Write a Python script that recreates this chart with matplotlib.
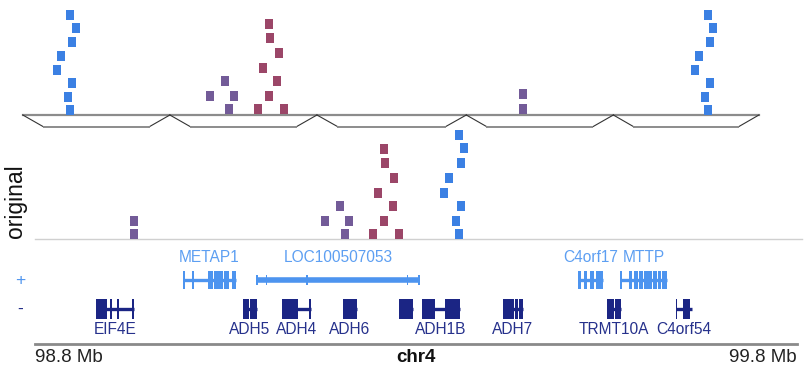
import matplotlib.pyplot as plt
from matplotlib.patches import Rectangle

plt.rcParams['font.family'] = ['Liberation Sans', 'DejaVu Sans']

W, H = 807, 383
BLUE = "#3b80e3"
PURPLE = "#735b98"
RED = "#9b4668"
PLUS_C = "#4d94ef"
MINUS_C = "#1b2584"

# positions in kb on chr4
seg_edges = [98784, 98977, 99170, 99366, 99559, 99750]

# top (rearranged) track
top_blue_x = [98846, 98854, 98849, 98834, 98829, 98849, 98843, 98846,
              99683, 99690, 99686, 99671, 99666, 99686, 99679, 99683]
top_blue_y = [100, 87, 73, 59, 45, 32, 18, 5,
              100, 87, 73, 59, 45, 32, 18, 5]
top_purple_x = [99049, 99030, 99061, 99055, 99440, 99440]
top_purple_y = [34, 19, 19, 6, 21, 6]
top_red_x = [99107, 99108, 99120, 99099, 99118, 99107, 99093, 99127]
top_red_y = [91, 77, 62, 47, 34, 19, 6, 6]

# original track
orig_blue_x = [99356, 99363, 99359, 99343, 99337, 99359, 99353, 99356]
orig_blue_y = [104, 91, 76, 61, 46, 33, 18, 5]
orig_purple_x = [98930, 98930, 99200, 99181, 99212, 99207]
orig_purple_y = [18, 5, 33, 18, 18, 5]
orig_red_x = [99258, 99259, 99271, 99250, 99270, 99258, 99244, 99278]
orig_red_y = [90, 76, 61, 46, 33, 18, 5, 5]

# genes
gene_names = ["METAP1", "LOC100507053", "C4orf17", "MTTP",
              "EIF4E", "ADH5", "ADH4", "ADH6", "", "ADH1B", "ADH7",
              "TRMT10A", "C4orf54"]
gene_strand = ["+", "+", "+", "+", "-", "-", "-", "-", "-", "-", "-", "-", "-"]
gene_start = [98994, 99090, 99513, 99568, 98880, 99073, 99124, 99204,
               99278, 99308, 99414, 99551, 99641]
gene_end = [99064, 99305, 99545, 99629, 98930, 99091, 99162, 99223,
             99296, 99358, 99440, 99569, 99662]
gene_exons = [
    [(98994, 98997), (99006, 99009), (99027, 99034), (99035, 99047),
     (99048, 99055), (99058, 99064)],
    [(99090, 99092), (99103, 99105), (99156, 99158), (99288, 99290), (99302, 99305)],
    [(99513, 99517), (99520, 99525), (99528, 99533), (99536, 99545)],
    [(99568, 99570), (99579, 99583), (99586, 99591), (99593, 99598), (99599, 99604),
     (99605, 99610), (99611, 99616), (99617, 99622), (99623, 99629)],
    [(98880, 98894), (98898, 98901), (98907, 98910), (98927, 98930)],
    [(99073, 99081), (99081.5, 99091)],
    [(99124, 99137), (99137.5, 99145), (99160, 99162)],
    [(99204, 99213), (99213.5, 99223)],
    [(99278, 99287), (99287.5, 99296)],
    [(99308, 99325), (99338, 99348), (99348.5, 99358)],
    [(99414, 99423), (99424, 99429), (99430, 99434), (99435, 99440)],
    [(99551, 99560), (99560.5, 99569)],
    [(99641, 99643), (99650, 99660)],
]
noncoding = ["LOC100507053"]

XLIM = (98800 - 35 / 0.762, 98800 + 772 / 0.762)


def px_axes(fig, y0, h):
    ax = fig.add_axes([0, 1 - (y0 + h) / H, 1, h / H])
    ax.set_xlim(*XLIM)
    ax.axis('off')
    return ax


fig = plt.figure(figsize=(W / 100, H / 100), dpi=100)
marker = [(-0.4, -0.5), (0.4, -0.5), (0.4, 0.5), (-0.4, 0.5), (-0.4, -0.5)]

# top panel
ax1 = px_axes(fig, 0, 130)
ax1.set_ylim(-15, 115)
ax1.plot([seg_edges[0], seg_edges[-1]], [0, 0], color="#8c8c8c", lw=1.6, zorder=1)
for a, b in zip(seg_edges[:-1], seg_edges[1:]):
    ins = (b - a) * 0.143
    ax1.plot([a, a + ins], [0, -12], color="#333333", lw=0.8)
    ax1.plot([b - ins, b], [-12, 0], color="#333333", lw=0.8)
    ax1.plot([a + ins, b - ins], [-12, -12], color="#8c8c8c", lw=1.4)
for xs, ys, c in [(top_blue_x, top_blue_y, BLUE), (top_purple_x, top_purple_y, PURPLE),
                  (top_red_x, top_red_y, RED)]:
    ax1.scatter(xs, ys, marker=marker, s=46, color=c, linewidths=0, zorder=3)

# original panel
ax2 = px_axes(fig, 130, 115)
ax2.set_ylim(-6, 109)
ax2.plot([98800, 99806], [0, 0], color="#d0d0d0", lw=1, zorder=1)
for xs, ys, c in [(orig_blue_x, orig_blue_y, BLUE), (orig_purple_x, orig_purple_y, PURPLE),
                  (orig_red_x, orig_red_y, RED)]:
    ax2.scatter(xs, ys, marker=marker, s=46, color=c, linewidths=0, zorder=3)
fig.text(15 / W, 1 - 201 / H, "original", rotation=90, ha='center', va='center',
         fontsize=16.5, color="#111111")

# gene track
ax3 = px_axes(fig, 245, 138)
ax3.set_ylim(383, 245)
row_y = {"+": 280, "-": 309}
row_h = {"+": 18, "-": 20}
row_c = {"+": PLUS_C, "-": MINUS_C}
lab_y = {"+": 257, "-": 330}
lab_c = {"+": "#5d9ff2", "-": "#26318c"}
for name, st, s, e, exons in zip(gene_names, gene_strand, gene_start, gene_end, gene_exons):
    y = row_y[st]
    c = row_c[st]
    nc = name in noncoding
    ax3.plot([s, e], [y, y], color=c, lw=4 if nc else 2.4, solid_capstyle='butt')
    h = 10 if nc else row_h[st]
    for a, b in exons:
        ax3.add_patch(Rectangle((a, y - h / 2), b - a, h, color=c, lw=0))
    if name:
        ax3.text((s + e) / 2, lab_y[st], name, ha='center', va='center',
                 fontsize=11.2, color=lab_c[st])
ax3.text(20 / 0.762 + XLIM[0], row_y["+"], "+", ha='center', va='center',
         fontsize=12.5, color=PLUS_C)
ax3.text(20 / 0.762 + XLIM[0], row_y["-"], "-", ha='center', va='center',
         fontsize=12.5, color=MINUS_C)

# chromosome axis
ax3.plot([98800, 99800], [344, 344], color="#8a8a8a", lw=2)
ax3.text(98800, 358, "98.8 Mb", ha='left', va='center', fontsize=13.5, color="#222222")
ax3.text(99800, 358, "99.8 Mb", ha='right', va='center', fontsize=13.5, color="#222222")
ax3.text(99300, 358, "chr4", ha='center', va='center', fontsize=13.5,
         fontweight='bold', color="#111111")

fig.savefig("out.png", dpi=100)
